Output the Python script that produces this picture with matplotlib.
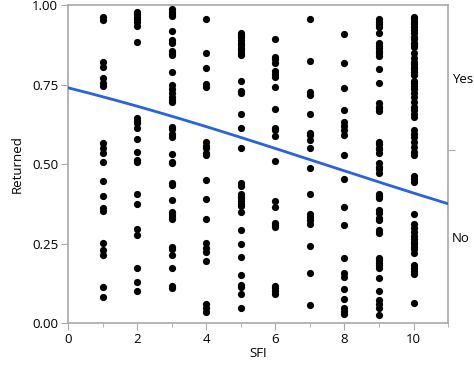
import numpy as np
import matplotlib
matplotlib.use("Agg")
import matplotlib.pyplot as plt

# jittered "Returned" positions, one list per SFI value
ret_sfi1 = [0.962, 0.952, 0.820, 0.804, 0.770, 0.754, 0.744, 0.565, 0.552, 0.536,
            0.505, 0.448, 0.401, 0.363, 0.353, 0.252, 0.230, 0.215, 0.114, 0.082]
ret_sfi2 = [0.978, 0.972, 0.962, 0.956, 0.946, 0.934, 0.883, 0.644, 0.634, 0.628,
            0.612, 0.580, 0.539, 0.514, 0.508, 0.407, 0.375, 0.297, 0.278, 0.174,
            0.129, 0.101]
ret_sfi3 = [0.987, 0.978, 0.972, 0.965, 0.918, 0.890, 0.880, 0.855, 0.849, 0.842,
            0.789, 0.748, 0.735, 0.722, 0.710, 0.700, 0.694, 0.618, 0.609, 0.596,
            0.584, 0.533, 0.508, 0.502, 0.442, 0.435, 0.388, 0.350, 0.344, 0.334,
            0.328, 0.240, 0.233, 0.215, 0.174, 0.117, 0.110]
ret_sfi4 = [0.956, 0.849, 0.801, 0.751, 0.741, 0.568, 0.558, 0.549, 0.536, 0.530,
            0.451, 0.391, 0.328, 0.252, 0.237, 0.224, 0.196, 0.060, 0.047, 0.035]
ret_sfi5 = [0.912, 0.905, 0.899, 0.890, 0.880, 0.874, 0.864, 0.858, 0.849, 0.842,
            0.760, 0.729, 0.722, 0.659, 0.615, 0.549, 0.442, 0.432, 0.407, 0.401,
            0.394, 0.385, 0.375, 0.369, 0.350, 0.293, 0.249, 0.208, 0.151, 0.120,
            0.114, 0.091, 0.047]
ret_sfi6 = [0.893, 0.836, 0.830, 0.817, 0.792, 0.782, 0.773, 0.741, 0.672, 0.615,
            0.606, 0.587, 0.511, 0.385, 0.366, 0.315, 0.309, 0.303, 0.117, 0.110,
            0.101, 0.091]
ret_sfi7 = [0.956, 0.823, 0.726, 0.716, 0.659, 0.599, 0.590, 0.577, 0.552, 0.489,
            0.407, 0.344, 0.334, 0.325, 0.312, 0.243, 0.158, 0.057]
ret_sfi8 = [0.909, 0.817, 0.738, 0.669, 0.631, 0.621, 0.606, 0.593, 0.527, 0.454,
            0.366, 0.309, 0.205, 0.158, 0.145, 0.107, 0.076, 0.047, 0.038, 0.028]
ret_sfi9 = [0.956, 0.946, 0.940, 0.931, 0.912, 0.880, 0.871, 0.864, 0.855, 0.849,
            0.839, 0.798, 0.754, 0.691, 0.681, 0.675, 0.666, 0.568, 0.562, 0.552,
            0.546, 0.536, 0.502, 0.492, 0.483, 0.473, 0.407, 0.401, 0.394, 0.356,
            0.347, 0.331, 0.325, 0.293, 0.284, 0.205, 0.199, 0.189, 0.183, 0.174,
            0.142, 0.101, 0.073, 0.060, 0.047, 0.025]
ret_sfi10 = [0.962, 0.956, 0.946, 0.940, 0.931, 0.921, 0.912, 0.899, 0.893, 0.880,
             0.874, 0.868, 0.849, 0.833, 0.820, 0.814, 0.804, 0.798, 0.789, 0.779,
             0.760, 0.754, 0.744, 0.735, 0.722, 0.710, 0.694, 0.681, 0.669, 0.659,
             0.647, 0.606, 0.596, 0.584, 0.568, 0.555, 0.539, 0.527, 0.461, 0.454,
             0.445, 0.344, 0.312, 0.300, 0.287, 0.274, 0.265, 0.256, 0.249, 0.240,
             0.233, 0.221, 0.183, 0.174, 0.164, 0.155, 0.063]
sfi_values = [1, 2, 3, 4, 5, 6, 7, 8, 9, 10]

# logistic fit (logit scale) and the overall split on the right axis
fit_intercept = 1.046
fit_slope = -0.1415
split_no = 0.543
right_labels = ["Yes", "No"]

columns = [ret_sfi1, ret_sfi2, ret_sfi3, ret_sfi4, ret_sfi5,
           ret_sfi6, ret_sfi7, ret_sfi8, ret_sfi9, ret_sfi10]
xs = np.concatenate([[s] * len(c) for s, c in zip(sfi_values, columns)])
ys = np.concatenate(columns)

plt.rcParams['font.family'] = ['Open Sans', 'DejaVu Sans']
grey = '#a8a8a8'

fig = plt.figure(figsize=(4.74, 3.65), dpi=100)
ax = fig.add_axes([0.1435, 0.115, 0.802, 0.871])

ax.scatter(xs, ys, s=27, color='black', linewidths=0, zorder=3)

xf = np.linspace(0, 11, 200)
pf = 1.0 / (1.0 + np.exp(-(fit_intercept + fit_slope * xf)))
ax.plot(xf, pf, color='#2862e0', lw=2.0, zorder=4)

ax.set_xlim(0, 11)
ax.set_ylim(0, 1)
ax.set_xticks([0, 2, 4, 6, 8, 10])
ax.set_xticks([1, 3, 5, 7, 9, 11], minor=True)
ax.set_yticks([0, 0.25, 0.5, 0.75, 1.0])
ax.set_yticklabels(['0.00', '0.25', '0.50', '0.75', '1.00'])
ax.tick_params(which='major', length=5, color=grey, labelsize=9.5, pad=2)
ax.tick_params(which='minor', length=3, color=grey)
for sp in ax.spines.values():
    sp.set_color(grey)
    sp.set_linewidth(1.2)

ax.set_xlabel('SFI', fontsize=9.5, labelpad=1)
ax.set_ylabel('Returned', fontsize=9.5, labelpad=6)

ax2 = ax.twinx()
ax2.set_ylim(0, 1)
ax2.set_yticks([split_no])
ax2.set_yticklabels([''])
ax2.set_yticks([(1 + split_no) / 2, split_no / 2], minor=True)
ax2.set_yticklabels(right_labels, minor=True)
ax2.tick_params(which='major', length=5, color=grey)
ax2.tick_params(which='minor', length=0, labelsize=9.5, pad=2.5)
for sp in ax2.spines.values():
    sp.set_visible(False)

fig.savefig('out.png', dpi=100)
